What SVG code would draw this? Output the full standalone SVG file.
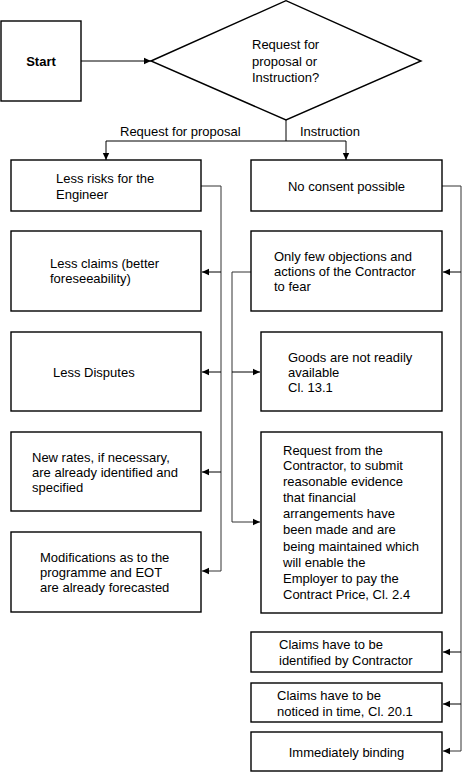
<svg xmlns="http://www.w3.org/2000/svg" width="462" height="773" viewBox="0 0 462 773">
<style>
.box{fill:#fff;stroke:#000;stroke-width:1.4}
.t{font-family:"Liberation Sans",Arial,sans-serif;font-size:13px;fill:#000}
.c{text-anchor:middle}
.b{font-weight:bold}
.ln{fill:none;stroke:#000;stroke-width:1}
.bus{fill:none;stroke:#333;stroke-width:1}
</style>
<defs>
<marker id="ah" markerUnits="userSpaceOnUse" markerWidth="7" markerHeight="8" refX="7" refY="4" orient="auto">
<path d="M0,0.8 L7,4 L0,7.2 z" fill="#000"/>
</marker>
</defs>
<rect width="462" height="773" fill="#fff"/>
<g id="connectors">
<line class="ln" x1="81" y1="61" x2="151" y2="61" marker-end="url(#ah)"/>
<polyline class="ln" points="286,120 286,141"/>
<polyline class="ln" points="106,141 346,141"/>
<line class="ln" x1="106" y1="141" x2="106" y2="160" marker-end="url(#ah)"/>
<line class="ln" x1="346" y1="141" x2="346" y2="160" marker-end="url(#ah)"/>
<polyline class="bus" points="201,186 221,186 221,571 202,571" marker-end="url(#ah)"/>
<line class="ln" x1="221" y1="272" x2="202" y2="272" marker-end="url(#ah)"/>
<line class="ln" x1="221" y1="372" x2="202" y2="372" marker-end="url(#ah)"/>
<line class="ln" x1="221" y1="472" x2="202" y2="472" marker-end="url(#ah)"/>
<polyline class="bus" points="442,186 461,186 461,751 443,751" marker-end="url(#ah)"/>
<line class="ln" x1="461" y1="272" x2="443" y2="272" marker-end="url(#ah)"/>
<line class="ln" x1="461" y1="652" x2="443" y2="652" marker-end="url(#ah)"/>
<line class="ln" x1="461" y1="704" x2="443" y2="704" marker-end="url(#ah)"/>
<polyline class="bus" points="251,272 232,272 232,522 260,522" marker-end="url(#ah)"/>
<line class="ln" x1="232" y1="372" x2="260" y2="372" marker-end="url(#ah)"/>
<text class="t" x="120" y="136">Request for proposal</text>
<text class="t" x="300" y="136">Instruction</text>
</g>
<g id="start">
<rect class="box" x="1" y="21" width="80" height="80"/>
<text class="t c b" x="41" y="66">Start</text>
</g>
<g id="decision">
<polygon class="box" points="151,61 286,0.7 421,61 286,120"/>
<text class="t" x="252" y="49">Request for</text>
<text class="t" x="252" y="65.5">proposal or</text>
<text class="t" x="252" y="82">Instruction?</text>
</g>
<g id="less-risks">
<rect class="box" x="11" y="160" width="190" height="51"/>
<text class="t" x="56" y="182.5">Less risks for the</text>
<text class="t" x="56" y="198.5">Engineer</text>
</g>
<g id="less-claims">
<rect class="box" x="11" y="231" width="190" height="80"/>
<text class="t" x="50" y="267.5">Less claims (better</text>
<text class="t" x="50" y="282.5">foreseeability)</text>
</g>
<g id="less-disputes">
<rect class="box" x="11" y="332" width="190" height="79"/>
<text class="t" x="53" y="376.5">Less Disputes</text>
</g>
<g id="new-rates">
<rect class="box" x="11" y="432" width="190" height="79"/>
<text class="t" x="32" y="461.5">New rates, if necessary,</text>
<text class="t" x="32" y="476.5">are already identified and</text>
<text class="t" x="32" y="492">specified</text>
</g>
<g id="modifications">
<rect class="box" x="11" y="532" width="190" height="80"/>
<text class="t" x="40" y="561.5">Modifications as to the</text>
<text class="t" x="40" y="576.5">programme and EOT</text>
<text class="t" x="40" y="592">are already forecasted</text>
</g>
<g id="no-consent">
<rect class="box" x="251" y="160" width="191" height="51"/>
<text class="t c" x="346.5" y="190.5">No consent possible</text>
</g>
<g id="few-objections">
<rect class="box" x="251" y="231" width="191" height="80"/>
<text class="t" x="274" y="260.5">Only few objections and</text>
<text class="t" x="274" y="275.5">actions of the Contractor</text>
<text class="t" x="274" y="291">to fear</text>
</g>
<g id="goods">
<rect class="box" x="261" y="332" width="181" height="79"/>
<text class="t" x="288" y="361.5">Goods are not readily</text>
<text class="t" x="288" y="376.5">available</text>
<text class="t" x="288" y="391.5">Cl. 13.1</text>
</g>
<g id="request-contractor">
<rect class="box" x="261" y="432" width="181" height="181"/>
<text class="t" x="283" y="454.5">Request from the</text>
<text class="t" x="283" y="470">Contractor, to submit</text>
<text class="t" x="283" y="486">reasonable evidence</text>
<text class="t" x="283" y="502">that financial</text>
<text class="t" x="283" y="518">arrangements have</text>
<text class="t" x="283" y="534">been made and are</text>
<text class="t" x="283" y="550.5">being maintained which</text>
<text class="t" x="283" y="566.5">will enable the</text>
<text class="t" x="283" y="582.5">Employer to pay the</text>
<text class="t" x="283" y="598.5">Contract Price, Cl. 2.4</text>
</g>
<g id="claims-identified">
<rect class="box" x="251" y="632" width="191" height="40"/>
<text class="t" x="279" y="648.5">Claims have to be</text>
<text class="t" x="279" y="664.5">identified by Contractor</text>
</g>
<g id="claims-noticed">
<rect class="box" x="251" y="683" width="191" height="39"/>
<text class="t" x="277" y="699.5">Claims have to be</text>
<text class="t" x="277" y="715.5">noticed in time, Cl. 20.1</text>
</g>
<g id="binding">
<rect class="box" x="251" y="732" width="191" height="39"/>
<text class="t c" x="346.5" y="756.5">Immediately binding</text>
</g>
</svg>
